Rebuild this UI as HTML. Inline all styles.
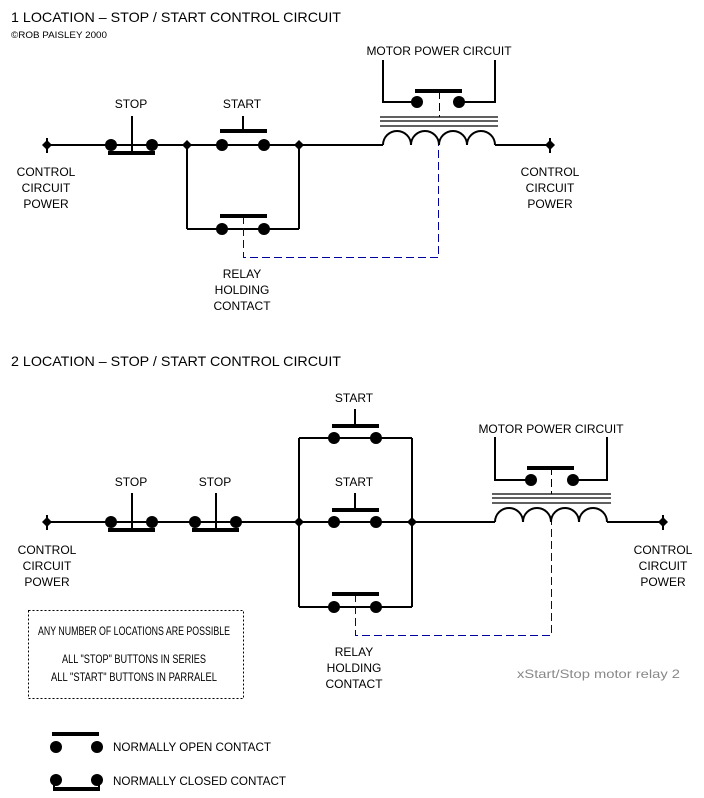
<!DOCTYPE html>
<html><head><style>
html,body{margin:0;padding:0;background:#fff}
svg{display:block}
text{font-family:"Liberation Sans",sans-serif;font-size:12px;fill:#000}
</style></head><body>
<svg width="704" height="798" viewBox="0 0 704 798" xmlns="http://www.w3.org/2000/svg">
<g stroke="#000" stroke-width="2" fill="none">
<line x1="47" y1="145" x2="383" y2="145"/>
<line x1="47" y1="138" x2="47" y2="153"/>
<line x1="132" y1="116" x2="132" y2="153"/>
<line x1="243" y1="116" x2="243" y2="131"/>
<line x1="187" y1="145" x2="187" y2="229"/>
<line x1="299" y1="145" x2="299" y2="229"/>
<line x1="187" y1="229" x2="299" y2="229"/>
<path d="M383 145 a14 14 0 0 1 28 0 a14 14 0 0 1 28 0 a14 14 0 0 1 28 0 a14 14 0 0 1 28 0"/>
<line x1="495" y1="145" x2="550" y2="145"/>
<line x1="550" y1="138" x2="550" y2="153"/>
<polyline points="383,60 383,102 417,102"/>
<polyline points="495,60 495,102 459,102"/>
<g stroke-width="1.3"><line x1="380" y1="117" x2="498" y2="117"/><line x1="380" y1="121" x2="498" y2="121"/><line x1="380" y1="126" x2="498" y2="126"/></g>
<line x1="47" y1="522" x2="495" y2="522"/>
<line x1="47" y1="515" x2="47" y2="530"/>
<line x1="132" y1="493" x2="132" y2="530"/>
<line x1="216" y1="493" x2="216" y2="530"/>
<line x1="355" y1="409" x2="355" y2="424"/>
<line x1="355" y1="493" x2="355" y2="508"/>
<line x1="299" y1="438" x2="299" y2="607"/>
<line x1="412" y1="438" x2="412" y2="607"/>
<line x1="299" y1="438" x2="412" y2="438"/>
<line x1="299" y1="607" x2="412" y2="607"/>
<path d="M495 522 a14 14 0 0 1 28 0 a14 14 0 0 1 28 0 a14 14 0 0 1 28 0 a14 14 0 0 1 28 0"/>
<line x1="607" y1="522" x2="663" y2="522"/>
<line x1="663" y1="515" x2="663" y2="530"/>
<polyline points="495,437 495,480 531,480"/>
<polyline points="607,437 607,480 573,480"/>
<g stroke-width="1.3"><line x1="492" y1="494" x2="611" y2="494"/><line x1="492" y1="498" x2="611" y2="498"/><line x1="492" y1="503" x2="611" y2="503"/></g>
</g>
<g stroke="#0000a0" stroke-width="1" fill="none" stroke-dasharray="8,4" shape-rendering="crispEdges">
<polyline points="243.5,216 243.5,257.5 438.5,257.5 438.5,145"/>
<line x1="439.5" y1="91" x2="439.5" y2="117" stroke="#000"/>
<polyline points="355.5,594 355.5,635.5 551.5,635.5 551.5,522"/>
<line x1="551.5" y1="467" x2="551.5" y2="494" stroke="#000"/>
</g>
<g fill="#000">
<rect x="108" y="151" width="47" height="4"/>
<rect x="220" y="129" width="47" height="4"/>
<rect x="220" y="214" width="47" height="4"/>
<rect x="415" y="89" width="47" height="4"/>
<rect x="108" y="528" width="47" height="4"/>
<rect x="192" y="528" width="47" height="4"/>
<rect x="332" y="424" width="47" height="4"/>
<rect x="332" y="508" width="47" height="4"/>
<rect x="332" y="592" width="47" height="4"/>
<rect x="527" y="466" width="47" height="4"/>
<rect x="52" y="732" width="47" height="4"/>
<rect x="53" y="787" width="47" height="4"/>
<rect x="53" y="780" width="2" height="9"/><rect x="98" y="780" width="2" height="9"/>
<circle cx="111" cy="145" r="6"/><circle cx="152" cy="145" r="6"/>
<circle cx="222" cy="145" r="6"/><circle cx="264" cy="145" r="6"/>
<circle cx="222" cy="229" r="6"/><circle cx="264" cy="229" r="6"/>
<circle cx="417" cy="102" r="6"/><circle cx="459" cy="102" r="6"/>
<circle cx="111" cy="522" r="6"/><circle cx="152" cy="522" r="6"/>
<circle cx="195" cy="522" r="6"/><circle cx="236" cy="522" r="6"/>
<circle cx="334" cy="438" r="6"/><circle cx="376" cy="438" r="6"/>
<circle cx="334" cy="522" r="6"/><circle cx="376" cy="522" r="6"/>
<circle cx="334" cy="607" r="6"/><circle cx="376" cy="607" r="6"/>
<circle cx="531" cy="480" r="6"/><circle cx="573" cy="480" r="6"/>
<circle cx="56" cy="747" r="6"/><circle cx="97" cy="747" r="6"/>
<circle cx="56" cy="780" r="6"/><circle cx="97" cy="780" r="6"/>
<path d="M47 140 l5 5 -5 5 -5 -5z"/><path d="M187 140 l5 5 -5 5 -5 -5z"/>
<path d="M299 140 l5 5 -5 5 -5 -5z"/><path d="M550 140 l5 5 -5 5 -5 -5z"/>
<path d="M47 517 l5 5 -5 5 -5 -5z"/><path d="M299 517 l5 5 -5 5 -5 -5z"/>
<path d="M412 517 l5 5 -5 5 -5 -5z"/><path d="M663 517 l5 5 -5 5 -5 -5z"/>
</g>
<rect x="28.5" y="610.5" width="215" height="88" fill="none" stroke="#000" stroke-width="1" stroke-dasharray="2,2"/>
<text x="11" y="22" style="font-size:14px" textLength="330" lengthAdjust="spacingAndGlyphs">1 LOCATION – STOP / START CONTROL CIRCUIT</text>
<text x="11" y="38" style="font-size:9px" textLength="96" lengthAdjust="spacingAndGlyphs">©ROB PAISLEY 2000</text>
<g text-anchor="middle">
<text x="131" y="108">STOP</text>
<text x="242" y="108">START</text>
<text x="439" y="55">MOTOR POWER CIRCUIT</text>
<text x="46" y="176">CONTROL</text><text x="46" y="192">CIRCUIT</text><text x="46" y="208">POWER</text>
<text x="550" y="176">CONTROL</text><text x="550" y="192">CIRCUIT</text><text x="550" y="208">POWER</text>
<text x="242" y="278">RELAY</text><text x="242" y="294">HOLDING</text><text x="242" y="310">CONTACT</text>
<text x="131" y="486">STOP</text>
<text x="215" y="486">STOP</text>
<text x="354" y="402">START</text>
<text x="354" y="486">START</text>
<text x="551" y="433">MOTOR POWER CIRCUIT</text>
<text x="47" y="554">CONTROL</text><text x="47" y="570">CIRCUIT</text><text x="47" y="586">POWER</text>
<text x="663" y="554">CONTROL</text><text x="663" y="570">CIRCUIT</text><text x="663" y="586">POWER</text>
<text x="354" y="656">RELAY</text><text x="354" y="672">HOLDING</text><text x="354" y="688">CONTACT</text>
</g>
<g style="font-size:9px" lengthAdjust="spacingAndGlyphs">
<text x="38" y="635" textLength="192" lengthAdjust="spacingAndGlyphs">ANY NUMBER OF LOCATIONS ARE POSSIBLE</text>
<text x="62" y="663" textLength="144" lengthAdjust="spacingAndGlyphs">ALL "STOP" BUTTONS IN SERIES</text>
<text x="51" y="681" textLength="166" lengthAdjust="spacingAndGlyphs">ALL "START" BUTTONS IN PARRALEL</text>
</g>
<text x="11" y="366" style="font-size:14px" textLength="330" lengthAdjust="spacingAndGlyphs">2 LOCATION – STOP / START CONTROL CIRCUIT</text>
<text x="517" y="678" style="fill:#888" textLength="163" lengthAdjust="spacingAndGlyphs">xStart/Stop motor relay 2</text>
<text x="113" y="751" textLength="158" lengthAdjust="spacingAndGlyphs">NORMALLY OPEN CONTACT</text>
<text x="113" y="785" textLength="173" lengthAdjust="spacingAndGlyphs">NORMALLY CLOSED CONTACT</text>
</svg>
</body></html>
